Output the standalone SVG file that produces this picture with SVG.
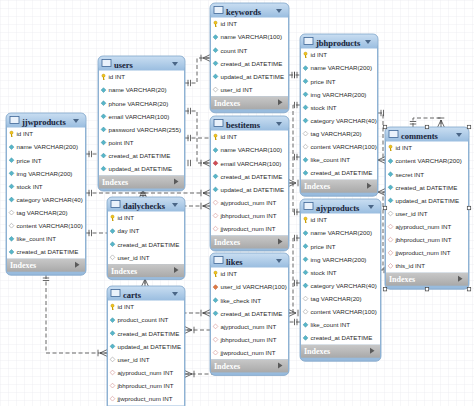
<svg xmlns="http://www.w3.org/2000/svg" xmlns:xlink="http://www.w3.org/1999/xlink" width="474" height="406" viewBox="0 0 474 406">
<defs>
<pattern id="grid" width="8" height="8" patternUnits="userSpaceOnUse"><path d="M8,0H0V8" fill="none" stroke="#e3e3ea" stroke-width=".6"/></pattern>
<linearGradient id="hg" x1="0" y1="0" x2="0" y2="1"><stop offset="0" stop-color="#c8ddf1"/><stop offset="1" stop-color="#98bcdf"/></linearGradient>
<linearGradient id="bg" x1="0" y1="0" x2="0" y2="1"><stop offset="0" stop-color="#c8c8c8"/><stop offset="1" stop-color="#a9a9a9"/></linearGradient>
<path id="dm" d="M0,-2.4L2.4,0L0,2.4L-2.4,0Z" stroke-linejoin="round"/>
<g id="key"><circle cx="0" cy="-1.3" r="1.6" fill="#f2c51f" stroke="#b08800" stroke-width=".4"/><path d="M0,0V2.9M0,2.2H1.2" fill="none" stroke="#c79c00" stroke-width="1"/></g>
<path id="one" d="M-3,-3.2V3.2M-5.5,-3.2V3.2" fill="none" stroke="#444" stroke-width=".8"/>
<path id="cf" d="M-7,0L0,-3.3M-7,0H0M-7,0L0,3.3M-9,-3.3V3.3" fill="none" stroke="#444" stroke-width=".8"/>
</defs>
<style>
.out{fill:#98bbdd;stroke:#7fa3c6;stroke-width:.8}
.hd{fill:url(#hg)}
.body{fill:#fff}
.bar{fill:url(#bg)}
.ttl{font:bold 8.5px "Liberation Serif",serif;fill:#172338}
.r{font:6.2px "Liberation Sans",Arial,sans-serif;fill:#2a2a2a}
.ix{font:bold 8px "Liberation Serif",serif;fill:#fff}
.ti{fill:#eaf2fb;stroke:#3f6797;stroke-width:.8}
.dd{fill:#4a6687}
.tri{fill:#5a5a5a}
.nn{fill:#56b6c9;stroke:#3a8ea2;stroke-width:.5}
.nl{fill:#fff;stroke:#9a9a9a;stroke-width:.6}
.fk{fill:#fff;stroke:#d28e8e;stroke-width:.6}
.fr{fill:#d14b55;stroke:#a23039;stroke-width:.5}
.fo{fill:#e07a45;stroke:#b0552a;stroke-width:.5}
.cn>path{fill:none;stroke:#555;stroke-width:.9;stroke-dasharray:4 2.5}
.hdl{fill:#fff;stroke:#444;stroke-width:.7}
</style>
<rect width="474" height="406" fill="#fff"/>
<rect width="474" height="406" fill="url(#grid)"/>

<g id="connectors" class="cn">
<path d="M185,83H197V58H210"/>
<path d="M185,111H197V163H210"/>
<path d="M185,138H210"/>
<path d="M86,154H98"/>
<path d="M86,193H210"/>
<path d="M86,233H150V206H210"/>
<path d="M46,275V353H107"/>
<path d="M143,190V197"/>
<path d="M145,280V286"/>
<path d="M150,313H210"/>
<path d="M300,322H250V330H185"/>
<path d="M185,374H240V340"/>
<path d="M300,105H293V183H289"/>
<path d="M300,157H293"/>
<path d="M300,212H293V183"/>
<path d="M300,238H293V313H289"/>
<path d="M300,283H293"/>
<path d="M289,75H300"/>
<path d="M378,113H383V160H385"/>
<path d="M381,270H383V192H385"/>
<path d="M413,127V118H441V127"/>
</g>
<g id="connector-ends">
<use href="#one" transform="translate(185,83) rotate(180)"/>
<use href="#one" transform="translate(185,111) rotate(180)"/>
<use href="#one" transform="translate(185,138) rotate(180)"/>
<use href="#one" transform="translate(185,163) rotate(180)"/>
<use href="#one" transform="translate(86,154) rotate(180)"/>
<use href="#one" transform="translate(86,193) rotate(180)"/>
<use href="#one" transform="translate(86,233) rotate(180)"/>
<use href="#one" transform="translate(46,275) rotate(-90)"/>
<use href="#one" transform="translate(143,190) rotate(-90)"/>
<use href="#cf" transform="translate(143,197) rotate(90)"/>
<use href="#cf" transform="translate(145,286) rotate(90)"/>
<use href="#cf" transform="translate(210,58)"/>
<use href="#cf" transform="translate(210,163)"/>
<use href="#cf" transform="translate(210,193)"/>
<use href="#cf" transform="translate(210,206)"/>
<use href="#cf" transform="translate(107,353)"/>
<use href="#cf" transform="translate(210,313)"/>
<use href="#cf" transform="translate(185,330) rotate(180)"/>
<use href="#cf" transform="translate(185,374) rotate(180)"/>
<use href="#one" transform="translate(300,105)"/>
<use href="#one" transform="translate(300,157)"/>
<use href="#one" transform="translate(300,212)"/>
<use href="#one" transform="translate(300,238)"/>
<use href="#one" transform="translate(300,283)"/>
<use href="#one" transform="translate(300,322)"/>
<use href="#one" transform="translate(300,75)"/>
<use href="#one" transform="translate(289,75) rotate(180)"/>
<use href="#cf" transform="translate(289,183) rotate(180)"/>
<use href="#cf" transform="translate(289,313) rotate(180)"/>
<use href="#one" transform="translate(378,113) rotate(180)"/>
<use href="#one" transform="translate(381,270) rotate(180)"/>
<use href="#cf" transform="translate(385,160)"/>
<use href="#cf" transform="translate(385,192)"/>
<use href="#one" transform="translate(413,127) rotate(90)"/>
<use href="#cf" transform="translate(441,127) rotate(90)"/>
</g>

<g id="keywords">
<rect class="out" x="210" y="3" width="79" height="109.8" rx="5"/>
<rect class="hd" x="210.5" y="3.5" width="78" height="14.5" rx="4.5"/>
<rect class="ti" x="214" y="6.5" width="9" height="7"/>
<text class="ttl" x="226" y="14.5">keywords</text>
<path class="dd" d="M276,9h6l-3,4z"/>
<rect class="body" x="211" y="17.5" width="77" height="78.8"/>
<use href="#key" x="215.5" y="24"/><text class="r" x="220.5" y="26.3">id INT</text>
<use href="#dm" class="nn" x="215.5" y="37.1"/><text class="r" x="220.5" y="39.4">name VARCHAR(100)</text>
<use href="#dm" class="nn" x="215.5" y="50.2"/><text class="r" x="220.5" y="52.5">count INT</text>
<use href="#dm" class="nn" x="215.5" y="63.3"/><text class="r" x="220.5" y="65.6">created_at DATETIME</text>
<use href="#dm" class="nn" x="215.5" y="76.4"/><text class="r" x="220.5" y="78.7">updated_at DATETIME</text>
<use href="#dm" class="nl" x="215.5" y="89.5"/><text class="r" x="220.5" y="91.8">user_id INT</text>
<rect class="bar" x="211" y="96.3" width="77" height="13"/>
<text class="ix" x="214" y="105.8">Indexes</text>
<path class="tri" d="M278,99.3v6l4.5,-3z"/>
</g>

<g id="users">
<rect class="out" x="98" y="56" width="87" height="135" rx="5"/>
<rect class="hd" x="98.5" y="56.5" width="86" height="14.5" rx="4.5"/>
<rect class="ti" x="102" y="59.5" width="9" height="7"/>
<text class="ttl" x="114" y="67.5">users</text>
<path class="dd" d="M172,62h6l-3,4z"/>
<rect class="body" x="99" y="70.5" width="85" height="105"/>
<use href="#key" x="103.5" y="77"/><text class="r" x="108.5" y="79.3">id INT</text>
<use href="#dm" class="nn" x="103.5" y="90.1"/><text class="r" x="108.5" y="92.4">name VARCHAR(20)</text>
<use href="#dm" class="nn" x="103.5" y="103.2"/><text class="r" x="108.5" y="105.5">phone VARCHAR(20)</text>
<use href="#dm" class="nn" x="103.5" y="116.3"/><text class="r" x="108.5" y="118.6">email VARCHAR(100)</text>
<use href="#dm" class="nn" x="103.5" y="129.4"/><text class="r" x="108.5" y="131.7">password VARCHAR(255)</text>
<use href="#dm" class="nn" x="103.5" y="142.5"/><text class="r" x="108.5" y="144.8">point INT</text>
<use href="#dm" class="nn" x="103.5" y="155.6"/><text class="r" x="108.5" y="157.9">created_at DATETIME</text>
<use href="#dm" class="nn" x="103.5" y="168.7"/><text class="r" x="108.5" y="171">updated_at DATETIME</text>
<rect class="bar" x="99" y="175.5" width="85" height="13"/>
<text class="ix" x="102" y="185">Indexes</text>
<path class="tri" d="M174,178.5v6l4.5,-3z"/>
</g>

<g id="jjwproducts">
<rect class="out" x="6" y="113" width="80" height="162.2" rx="5"/>
<rect class="hd" x="6.5" y="113.5" width="79" height="14.5" rx="4.5"/>
<rect class="ti" x="10" y="116.5" width="9" height="7"/>
<text class="ttl" x="22" y="124.5">jjwproducts</text>
<path class="dd" d="M73,119h6l-3,4z"/>
<rect class="body" x="7" y="127.5" width="78" height="131.2"/>
<use href="#key" x="11.5" y="134"/><text class="r" x="16.5" y="136.3">id INT</text>
<use href="#dm" class="nn" x="11.5" y="147.1"/><text class="r" x="16.5" y="149.4">name VARCHAR(200)</text>
<use href="#dm" class="nn" x="11.5" y="160.2"/><text class="r" x="16.5" y="162.5">price INT</text>
<use href="#dm" class="nn" x="11.5" y="173.3"/><text class="r" x="16.5" y="175.6">img VARCHAR(200)</text>
<use href="#dm" class="nn" x="11.5" y="186.4"/><text class="r" x="16.5" y="188.7">stock INT</text>
<use href="#dm" class="nn" x="11.5" y="199.5"/><text class="r" x="16.5" y="201.8">category VARCHAR(40)</text>
<use href="#dm" class="nl" x="11.5" y="212.6"/><text class="r" x="16.5" y="214.9">tag VARCHAR(20)</text>
<use href="#dm" class="nl" x="11.5" y="225.7"/><text class="r" x="16.5" y="228">content VARCHAR(100)</text>
<use href="#dm" class="nn" x="11.5" y="238.8"/><text class="r" x="16.5" y="241.1">like_count INT</text>
<use href="#dm" class="nn" x="11.5" y="251.9"/><text class="r" x="16.5" y="254.2">created_at DATETIME</text>
<rect class="bar" x="7" y="258.7" width="78" height="13"/>
<text class="ix" x="10" y="268.2">Indexes</text>
<path class="tri" d="M75,261.7v6l4.5,-3z"/>
</g>

<g id="jbhproducts">
<rect class="out" x="300" y="34" width="78" height="162.2" rx="5"/>
<rect class="hd" x="300.5" y="34.5" width="77" height="14.5" rx="4.5"/>
<rect class="ti" x="304" y="37.5" width="9" height="7"/>
<text class="ttl" x="316" y="45.5">jbhproducts</text>
<path class="dd" d="M365,40h6l-3,4z"/>
<rect class="body" x="301" y="48.5" width="76" height="131.2"/>
<use href="#key" x="305.5" y="55"/><text class="r" x="310.5" y="57.3">id INT</text>
<use href="#dm" class="nn" x="305.5" y="68.1"/><text class="r" x="310.5" y="70.4">name VARCHAR(200)</text>
<use href="#dm" class="nn" x="305.5" y="81.2"/><text class="r" x="310.5" y="83.5">price INT</text>
<use href="#dm" class="nn" x="305.5" y="94.3"/><text class="r" x="310.5" y="96.6">img VARCHAR(200)</text>
<use href="#dm" class="nn" x="305.5" y="107.4"/><text class="r" x="310.5" y="109.7">stock INT</text>
<use href="#dm" class="nn" x="305.5" y="120.5"/><text class="r" x="310.5" y="122.8">category VARCHAR(40)</text>
<use href="#dm" class="nl" x="305.5" y="133.6"/><text class="r" x="310.5" y="135.9">tag VARCHAR(20)</text>
<use href="#dm" class="nl" x="305.5" y="146.7"/><text class="r" x="310.5" y="149">content VARCHAR(100)</text>
<use href="#dm" class="nn" x="305.5" y="159.8"/><text class="r" x="310.5" y="162.1">like_count INT</text>
<use href="#dm" class="nn" x="305.5" y="172.9"/><text class="r" x="310.5" y="175.2">created_at DATETIME</text>
<rect class="bar" x="301" y="179.7" width="76" height="13"/>
<text class="ix" x="304" y="189.2">Indexes</text>
<path class="tri" d="M367,182.7v6l4.5,-3z"/>
</g>

<g id="ajyproducts">
<rect class="out" x="300" y="199" width="81" height="162.2" rx="5"/>
<rect class="hd" x="300.5" y="199.5" width="80" height="14.5" rx="4.5"/>
<rect class="ti" x="304" y="202.5" width="9" height="7"/>
<text class="ttl" x="316" y="210.5">ajyproducts</text>
<path class="dd" d="M368,205h6l-3,4z"/>
<rect class="body" x="301" y="213.5" width="79" height="131.2"/>
<use href="#key" x="305.5" y="220"/><text class="r" x="310.5" y="222.3">id INT</text>
<use href="#dm" class="nn" x="305.5" y="233.1"/><text class="r" x="310.5" y="235.4">name VARCHAR(200)</text>
<use href="#dm" class="nn" x="305.5" y="246.2"/><text class="r" x="310.5" y="248.5">price INT</text>
<use href="#dm" class="nn" x="305.5" y="259.3"/><text class="r" x="310.5" y="261.6">img VARCHAR(200)</text>
<use href="#dm" class="nn" x="305.5" y="272.4"/><text class="r" x="310.5" y="274.7">stock INT</text>
<use href="#dm" class="nn" x="305.5" y="285.5"/><text class="r" x="310.5" y="287.8">category VARCHAR(40)</text>
<use href="#dm" class="nl" x="305.5" y="298.6"/><text class="r" x="310.5" y="300.9">tag VARCHAR(20)</text>
<use href="#dm" class="nl" x="305.5" y="311.7"/><text class="r" x="310.5" y="314">content VARCHAR(100)</text>
<use href="#dm" class="nn" x="305.5" y="324.8"/><text class="r" x="310.5" y="327.1">like_count INT</text>
<use href="#dm" class="nn" x="305.5" y="337.9"/><text class="r" x="310.5" y="340.2">created_at DATETIME</text>
<rect class="bar" x="301" y="344.7" width="79" height="13"/>
<text class="ix" x="304" y="354.2">Indexes</text>
<path class="tri" d="M370,347.7v6l4.5,-3z"/>
</g>

<g id="comments">
<rect class="out" x="385" y="127" width="84" height="162.2" rx="5"/>
<rect class="hd" x="385.5" y="127.5" width="83" height="14.5" rx="4.5"/>
<rect class="ti" x="389" y="130.5" width="9" height="7"/>
<text class="ttl" x="401" y="138.5">comments</text>
<path class="dd" d="M456,133h6l-3,4z"/>
<rect class="body" x="386" y="141.5" width="82" height="131.2"/>
<use href="#key" x="390.5" y="148"/><text class="r" x="395.5" y="150.3">id INT</text>
<use href="#dm" class="nn" x="390.5" y="161.1"/><text class="r" x="395.5" y="163.4">content VARCHAR(200)</text>
<use href="#dm" class="nn" x="390.5" y="174.2"/><text class="r" x="395.5" y="176.5">secret INT</text>
<use href="#dm" class="nn" x="390.5" y="187.3"/><text class="r" x="395.5" y="189.6">created_at DATETIME</text>
<use href="#dm" class="nn" x="390.5" y="200.4"/><text class="r" x="395.5" y="202.7">updated_at DATETIME</text>
<use href="#dm" class="nl" x="390.5" y="213.5"/><text class="r" x="395.5" y="215.8">user_id INT</text>
<use href="#dm" class="fk" x="390.5" y="226.6"/><text class="r" x="395.5" y="228.9">ajyproduct_num INT</text>
<use href="#dm" class="fk" x="390.5" y="239.7"/><text class="r" x="395.5" y="242">jbhproduct_num INT</text>
<use href="#dm" class="fk" x="390.5" y="252.8"/><text class="r" x="395.5" y="255.1">jjwproduct_num INT</text>
<use href="#dm" class="fk" x="390.5" y="265.9"/><text class="r" x="395.5" y="268.2">this_id INT</text>
<rect class="bar" x="386" y="272.7" width="82" height="13"/>
<text class="ix" x="389" y="282.2">Indexes</text>
<path class="tri" d="M458,275.7v6l4.5,-3z"/>
<rect class="hdl" x="383.3" y="125.3" width="3.4" height="3.4"/>
<rect class="hdl" x="425.3" y="125.3" width="3.4" height="3.4"/>
<rect class="hdl" x="467.3" y="125.3" width="3.4" height="3.4"/>
<rect class="hdl" x="383.3" y="206.3" width="3.4" height="3.4"/>
<rect class="hdl" x="467.3" y="206.3" width="3.4" height="3.4"/>
<rect class="hdl" x="383.3" y="287.5" width="3.4" height="3.4"/>
<rect class="hdl" x="425.3" y="287.5" width="3.4" height="3.4"/>
<rect class="hdl" x="467.3" y="287.5" width="3.4" height="3.4"/>
</g>

<g id="bestitems">
<rect class="out" x="210" y="116" width="79" height="135" rx="5"/>
<rect class="hd" x="210.5" y="116.5" width="78" height="14.5" rx="4.5"/>
<rect class="ti" x="214" y="119.5" width="9" height="7"/>
<text class="ttl" x="226" y="127.5">bestitems</text>
<path class="dd" d="M276,122h6l-3,4z"/>
<rect class="body" x="211" y="130.5" width="77" height="105"/>
<use href="#key" x="215.5" y="137"/><text class="r" x="220.5" y="139.3">id INT</text>
<use href="#dm" class="nn" x="215.5" y="150.1"/><text class="r" x="220.5" y="152.4">name VARCHAR(100)</text>
<use href="#dm" class="fr" x="215.5" y="163.2"/><text class="r" x="220.5" y="165.5">email VARCHAR(100)</text>
<use href="#dm" class="nn" x="215.5" y="176.3"/><text class="r" x="220.5" y="178.6">created_at DATETIME</text>
<use href="#dm" class="nn" x="215.5" y="189.4"/><text class="r" x="220.5" y="191.7">updated_at DATETIME</text>
<use href="#dm" class="fk" x="215.5" y="202.5"/><text class="r" x="220.5" y="204.8">ajyproduct_num INT</text>
<use href="#dm" class="fk" x="215.5" y="215.6"/><text class="r" x="220.5" y="217.9">jbhproduct_num INT</text>
<use href="#dm" class="fk" x="215.5" y="228.7"/><text class="r" x="220.5" y="231">jjwproduct_num INT</text>
<rect class="bar" x="211" y="235.5" width="77" height="13"/>
<text class="ix" x="214" y="245">Indexes</text>
<path class="tri" d="M278,238.5v6l4.5,-3z"/>
</g>

<g id="dailychecks">
<rect class="out" x="107" y="197" width="78" height="82.6" rx="5"/>
<rect class="hd" x="107.5" y="197.5" width="77" height="14.5" rx="4.5"/>
<rect class="ti" x="111" y="200.5" width="9" height="7"/>
<text class="ttl" x="123" y="208.5">dailychecks</text>
<path class="dd" d="M172,203h6l-3,4z"/>
<rect class="body" x="108" y="211.5" width="76" height="52.6"/>
<use href="#key" x="112.5" y="218"/><text class="r" x="117.5" y="220.3">id INT</text>
<use href="#dm" class="nn" x="112.5" y="231.1"/><text class="r" x="117.5" y="233.4">day INT</text>
<use href="#dm" class="nn" x="112.5" y="244.2"/><text class="r" x="117.5" y="246.5">created_at DATETIME</text>
<use href="#dm" class="nl" x="112.5" y="257.3"/><text class="r" x="117.5" y="259.6">user_id INT</text>
<rect class="bar" x="108" y="264.1" width="76" height="13"/>
<text class="ix" x="111" y="273.6">Indexes</text>
<path class="tri" d="M174,267.1v6l4.5,-3z"/>
</g>

<g id="likes">
<rect class="out" x="210" y="253" width="79" height="122.4" rx="5"/>
<rect class="hd" x="210.5" y="253.5" width="78" height="14.5" rx="4.5"/>
<rect class="ti" x="214" y="256.5" width="9" height="7"/>
<text class="ttl" x="226" y="264.5">likes</text>
<path class="dd" d="M276,259h6l-3,4z"/>
<rect class="body" x="211" y="267.5" width="77" height="91.9"/>
<use href="#key" x="215.5" y="274"/><text class="r" x="220.5" y="276.3">id INT</text>
<use href="#dm" class="fo" x="215.5" y="287.1"/><text class="r" x="220.5" y="289.4">user_id VARCHAR(100)</text>
<use href="#dm" class="nn" x="215.5" y="300.2"/><text class="r" x="220.5" y="302.5">like_check INT</text>
<use href="#dm" class="nn" x="215.5" y="313.3"/><text class="r" x="220.5" y="315.6">created_at DATETIME</text>
<use href="#dm" class="fk" x="215.5" y="326.4"/><text class="r" x="220.5" y="328.7">ajyproduct_num INT</text>
<use href="#dm" class="fk" x="215.5" y="339.5"/><text class="r" x="220.5" y="341.8">jbhproduct_num INT</text>
<use href="#dm" class="fk" x="215.5" y="352.6"/><text class="r" x="220.5" y="354.9">jjwproduct_num INT</text>
<rect class="bar" x="211" y="359.4" width="77" height="13"/>
<text class="ix" x="214" y="368.9">Indexes</text>
<path class="tri" d="M278,362.4v6l4.5,-3z"/>
</g>

<g id="carts">
<rect class="out" x="107" y="286" width="78" height="136" rx="5"/>
<rect class="hd" x="107.5" y="286.5" width="77" height="14.5" rx="4.5"/>
<rect class="ti" x="111" y="289.5" width="9" height="7"/>
<text class="ttl" x="123" y="297.5">carts</text>
<path class="dd" d="M172,292h6l-3,4z"/>
<rect class="body" x="108" y="300.5" width="76" height="105"/>
<use href="#key" x="112.5" y="307"/><text class="r" x="117.5" y="309.3">id INT</text>
<use href="#dm" class="nn" x="112.5" y="320.1"/><text class="r" x="117.5" y="322.4">product_count INT</text>
<use href="#dm" class="nn" x="112.5" y="333.2"/><text class="r" x="117.5" y="335.5">created_at DATETIME</text>
<use href="#dm" class="nn" x="112.5" y="346.3"/><text class="r" x="117.5" y="348.6">updated_at DATETIME</text>
<use href="#dm" class="nl" x="112.5" y="359.4"/><text class="r" x="117.5" y="361.7">user_id INT</text>
<use href="#dm" class="fk" x="112.5" y="372.5"/><text class="r" x="117.5" y="374.8">ajyproduct_num INT</text>
<use href="#dm" class="fk" x="112.5" y="385.6"/><text class="r" x="117.5" y="387.9">jbhproduct_num INT</text>
<use href="#dm" class="fk" x="112.5" y="398.7"/><text class="r" x="117.5" y="401">jjwproduct_num INT</text>
</g>
</svg>
